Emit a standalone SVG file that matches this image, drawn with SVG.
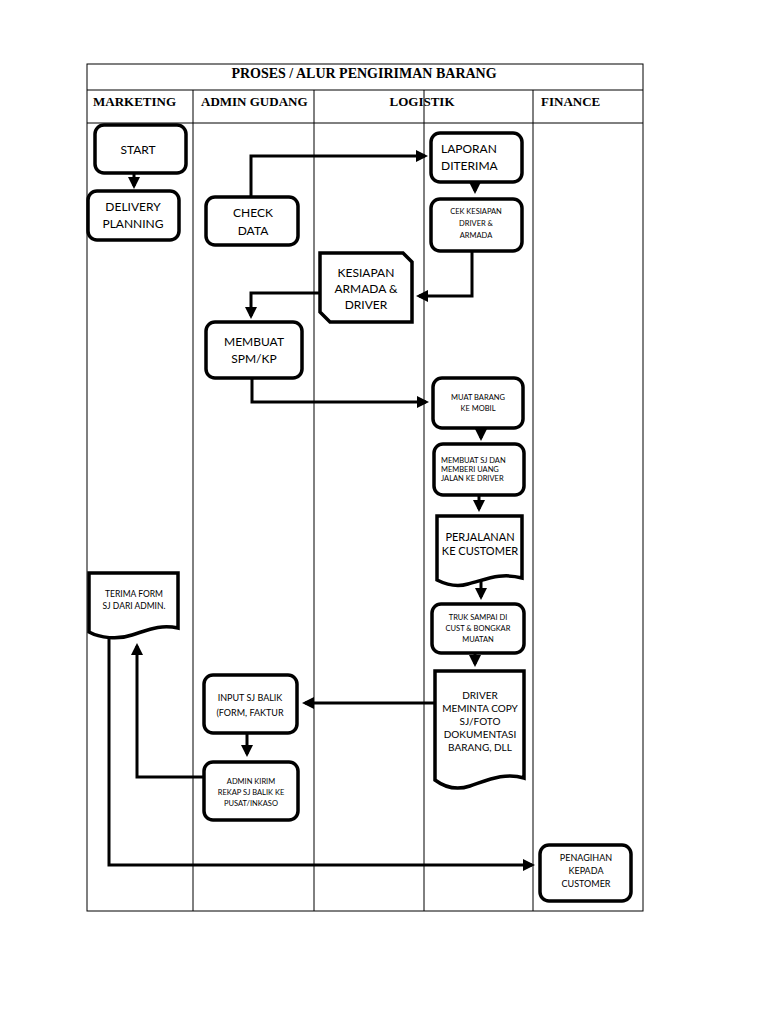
<svg xmlns="http://www.w3.org/2000/svg" width="768" height="1024" viewBox="0 0 768 1024">
<style>
.t{font-family:"Liberation Serif",serif;font-weight:bold;font-size:13px;fill:#000}
.n{fill:#fff;stroke:#000;stroke-width:3.5}
.l{font-family:"Lato","Liberation Sans",sans-serif;font-size:12px;fill:#000;text-anchor:middle}
.s{font-family:"Lato","Liberation Sans",sans-serif;font-size:7.5px;fill:#000;text-anchor:middle}
.st{text-anchor:start}
.c{fill:none;stroke:#000;stroke-width:3}
.g{stroke:#000;stroke-width:1;fill:none}
</style>
<defs><marker id="a" markerWidth="4" markerHeight="4" refX="3" refY="2" orient="auto"><path d="M0,0L4,2L0,4z" fill="#000"/></marker></defs>
<rect width="768" height="1024" fill="#fff"/>
<g id="table">
<rect x="87" y="64" width="556" height="847" class="g"/>
<line x1="87" y1="90" x2="643" y2="90" class="g"/>
<line x1="87" y1="123" x2="643" y2="123" class="g"/>
<line x1="193" y1="90" x2="193" y2="911" class="g"/>
<line x1="314" y1="90" x2="314" y2="911" class="g"/>
<line x1="424" y1="90" x2="424" y2="911" class="g"/>
<line x1="533" y1="90" x2="533" y2="911" class="g"/>
<text x="364" y="78" class="t" style="font-size:14px" text-anchor="middle">PROSES / ALUR PENGIRIMAN BARANG</text>
<text x="93" y="106" class="t">MARKETING</text>
<text x="201" y="106" class="t">ADMIN GUDANG</text>
<text x="422" y="106" class="t" text-anchor="middle">LOGISTIK</text>
<text x="541" y="106" class="t">FINANCE</text>
</g>
<g id="connectors">
<path d="M134,173V186" class="c" marker-end="url(#a)"/>
<path d="M251,197V156H425" class="c" marker-end="url(#a)"/>
<path d="M475,182V191" class="c" marker-end="url(#a)"/>
<path d="M472,251V296H419" class="c" marker-end="url(#a)"/>
<path d="M320,293H251V316" class="c" marker-end="url(#a)"/>
<path d="M252,378V402H426" class="c" marker-end="url(#a)"/>
<path d="M481,428V438" class="c" marker-end="url(#a)"/>
<path d="M479,495V509" class="c" marker-end="url(#a)"/>
<path d="M481,578V597" class="c" marker-end="url(#a)"/>
<path d="M475,653V664" class="c" marker-end="url(#a)"/>
<path d="M435,703H305" class="c" marker-end="url(#a)"/>
<path d="M247,733V754" class="c" marker-end="url(#a)"/>
<path d="M204,777H137V646" class="c" marker-end="url(#a)"/>
<path d="M109,637V865H532" class="c" marker-end="url(#a)"/>
</g>
<g id="start"><rect x="95" y="125" width="91" height="48" rx="9" class="n"/><text x="138" y="154" class="l">START</text></g>
<g id="delivery"><rect x="88" y="191" width="91" height="49" rx="9" class="n"/><text x="133" y="211" class="l">DELIVERY</text><text x="133" y="228" class="l">PLANNING</text></g>
<g id="check"><rect x="206" y="197" width="92" height="48" rx="9" class="n"/><text x="253" y="217" class="l">CHECK</text><text x="253" y="235" class="l">DATA</text></g>
<g id="laporan"><rect x="431" y="133" width="91" height="49" rx="9" class="n"/><text x="441" y="153" class="l st">LAPORAN</text><text x="441" y="170" class="l st">DITERIMA</text></g>
<g id="cek"><rect x="431" y="199" width="91" height="52" rx="9" class="n"/><text x="476" y="214" class="s">CEK KESIAPAN</text><text x="476" y="226" class="s">DRIVER &amp;</text><text x="476" y="238" class="s">ARMADA</text></g>
<g id="kesiapan"><polygon points="320,253 403,253 412,262 412,322 330,322 320,312" class="n"/><text x="366" y="277" class="l">KESIAPAN</text><text x="366" y="293" class="l">ARMADA &amp;</text><text x="366" y="309" class="l">DRIVER</text></g>
<g id="spm"><rect x="206" y="322" width="96" height="56" rx="9" class="n"/><text x="254" y="346" class="l">MEMBUAT</text><text x="254" y="363" class="l">SPM/KP</text></g>
<g id="muat"><rect x="433" y="378" width="90" height="50" rx="9" class="n"/><text x="478" y="400" class="s">MUAT BARANG</text><text x="478" y="411" class="s">KE MOBIL</text></g>
<g id="membuatsj"><rect x="434" y="444" width="90" height="51" rx="9" class="n"/><text x="441" y="463" class="s st">MEMBUAT SJ DAN</text><text x="441" y="472" class="s st">MEMBERI UANG</text><text x="441" y="481" class="s st">JALAN KE DRIVER</text></g>
<g id="perjalanan"><path d="M437,516H522V578C500,572 485,580 468,584C455,588 445,584 437,580Z" class="n"/><text x="480" y="541" class="l" style="font-size:11px">PERJALANAN</text><text x="480" y="555" class="l" style="font-size:11px">KE CUSTOMER</text></g>
<g id="truk"><rect x="432" y="604" width="92" height="49" rx="9" class="n"/><text x="478" y="620" class="s">TRUK SAMPAI DI</text><text x="478" y="631" class="s">CUST &amp; BONGKAR</text><text x="478" y="642" class="s">MUATAN</text></g>
<g id="driver"><path d="M435,671H524V778C505,772 488,780 470,786C455,791 443,786 435,780Z" class="n"/><text x="480" y="699" class="l" style="font-size:10px">DRIVER</text><text x="480" y="712" class="l" style="font-size:10px">MEMINTA COPY</text><text x="480" y="725" class="l" style="font-size:10px">SJ/FOTO</text><text x="480" y="738" class="l" style="font-size:10px">DOKUMENTASI</text><text x="480" y="751" class="l" style="font-size:10px">BARANG, DLL</text></g>
<g id="terima"><path d="M89,573H178V628C160,624 148,630 132,635C118,640 100,638 89,632Z" class="n"/><text x="134" y="597" class="l" style="font-size:8.5px">TERIMA FORM</text><text x="134" y="609" class="l" style="font-size:8.5px">SJ DARI ADMIN.</text></g>
<g id="input"><rect x="204" y="675" width="93" height="58" rx="9" class="n"/><text x="250" y="701" class="l" style="font-size:9px">INPUT SJ BALIK</text><text x="250" y="716" class="l" style="font-size:9px">(FORM, FAKTUR</text></g>
<g id="admin"><rect x="204" y="762" width="94" height="58" rx="9" class="n"/><text x="251" y="784" class="s">ADMIN KIRIM</text><text x="251" y="795" class="s">REKAP SJ BALIK KE</text><text x="251" y="806" class="s">PUSAT/INKASO</text></g>
<g id="penagihan"><rect x="540" y="845" width="91" height="56" rx="9" class="n"/><text x="586" y="861" class="l" style="font-size:9px">PENAGIHAN</text><text x="586" y="874" class="l" style="font-size:9px">KEPADA</text><text x="586" y="887" class="l" style="font-size:9px">CUSTOMER</text></g>
</svg>
